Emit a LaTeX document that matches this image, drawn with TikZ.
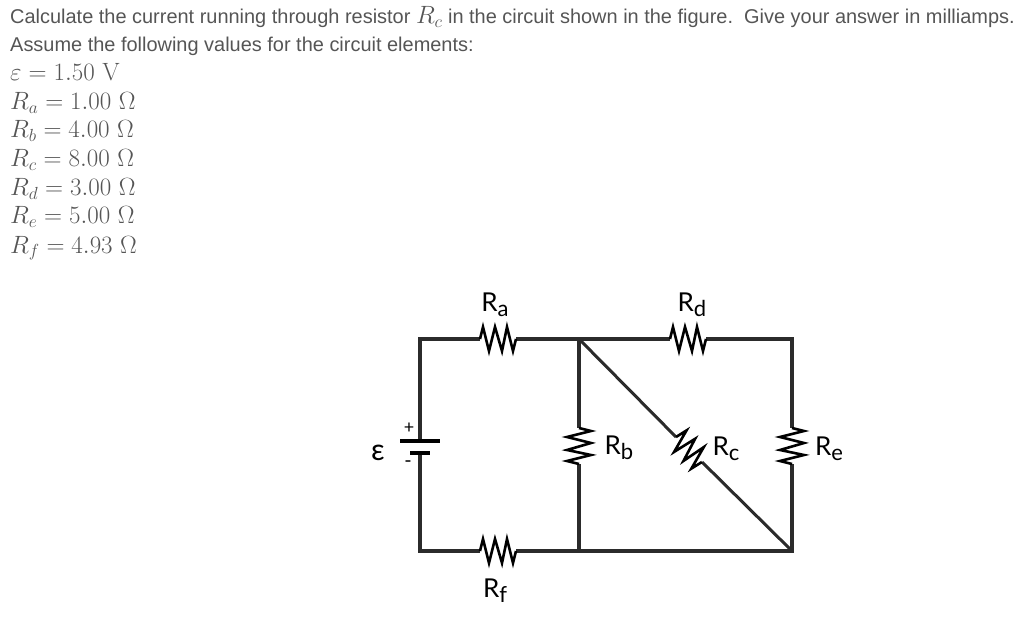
\documentclass[tikz,border=0pt]{standalone}
\usepackage{fix-cm}
\usepackage[no-math]{fontspec}
\newfontfamily\bodyfont{Liberation Sans}
\newfontfamily\labelfont{Lato}
\DeclareMathSizes{25}{25}{17.5}{12.5}
\definecolor{txt}{HTML}{555555}
\definecolor{wire}{HTML}{2B2B2B}
\tikzset{
  wirestyle/.style={draw=wire,line width=3.5pt,line join=miter},
  diagwire/.style={draw=wire,line width=3pt},
  zig/.style={draw=black,line width=2.6pt,line join=miter},
  plate/.style={draw=black,line width=3.2pt},
  bodytext/.style={anchor=base west,inner sep=0pt,text=txt,font=\bodyfont\fontsize{19.95}{24}\selectfont},
  mathtext/.style={anchor=base west,inner sep=0pt,text=txt,font=\fontsize{25}{29}\selectfont},
  circlabel/.style={inner sep=0pt,text=black,font=\labelfont\fontsize{26}{30}\selectfont},
  resistor/.pic={\draw[zig] (0,0)--(3,-12)--(9,12)--(15,-12)--(22,12)--(27,-12)--(33,12)--(36,0);}
}
\newcommand{\sublab}[2]{#1\raisebox{-0.2em}{\fontsize{22}{26}\selectfont #2}}
\begin{document}
\begin{tikzpicture}[x=1pt,y=-1pt]
\useasboundingbox (0,0) rectangle (1024,620);
% question text
\node[bodytext] (q1) at (10,24) {Calculate the current running through resistor \fontsize{25}{29}\selectfont$R_c$\fontsize{19.95}{24}\selectfont\ in the circuit shown in the figure.\ \ Give your answer in milliamps.};
\node[bodytext] (q2) at (10,52) {Assume the following values for the circuit elements:};
\node[mathtext] (v0) at (10,81) {$\varepsilon = 1.50\ \mathrm{V}$};
\node[mathtext] (va) at (10,110) {$R_a = 1.00\ \Omega$};
\node[mathtext] (vb) at (10,138) {$R_b = 4.00\ \Omega$};
\node[mathtext] (vc) at (10,167) {$R_c = 8.00\ \Omega$};
\node[mathtext] (vd) at (10,196) {$R_d = 3.00\ \Omega$};
\node[mathtext] (ve) at (10,224) {$R_e = 5.00\ \Omega$};
\node[mathtext] (vf) at (10,253) {$R_f = 4.93\ \Omega$};
% circuit corners
\coordinate (tl) at (420,339);
\coordinate (tm) at (579,339);
\coordinate (tr) at (792,339);
\coordinate (bl) at (420,551);
\coordinate (bm) at (579,551);
\coordinate (br) at (792,551);
\coordinate (ba1) at (480,339); \coordinate (ba2) at (516,339);
\coordinate (bd1) at (670,339); \coordinate (bd2) at (706,339);
\coordinate (bf1) at (480,551); \coordinate (bf2) at (516,551);
\coordinate (bb1) at (579,428); \coordinate (bb2) at (579,464);
\coordinate (be1) at (792,428); \coordinate (be2) at (792,464);
\coordinate (bc1) at (676,437); \coordinate (bc2) at (702,462);
\coordinate (pp) at (420,441);
\coordinate (pm) at (420,453);
% wires
\draw[wirestyle] (pp) -- (tl) -- (ba1);
\draw[wirestyle] (ba2) -- (tm) -- (bd1);
\draw[wirestyle] (bd2) -- (tr) -- (be1);
\draw[wirestyle] (be2) -- (br) -- (bm) -- (bf2);
\draw[wirestyle] (bf1) -- (bl) -- (pm);
\draw[wirestyle] (tm) -- (bb1);
\draw[wirestyle] (bb2) -- (bm);
\draw[diagwire] (tm) -- (bc1);
\draw[diagwire] (bc2) -- (br);
% resistors
\pic at (ba1) {resistor};
\pic at (bd1) {resistor};
\pic at (bf1) {resistor};
\pic[rotate=-90] at (bb1) {resistor};
\pic[rotate=-90] at (be1) {resistor};
\pic[rotate=-44] at (bc1) {resistor};
% battery
\draw[plate] (400,441) -- (440,441);
\draw[plate] (410,453) -- (430,453);
\node[inner sep=0pt,font=\labelfont\fontsize{18}{20}\selectfont] (plus) at (409,428) {+};
\node[inner sep=0pt,font=\labelfont\fontsize{20}{22}\selectfont] (minus) at (408,464) {-};
\node[circlabel,font=\labelfont\fontsize{30}{32}\selectfont] (eps) at (378,453) {ε};
% labels
\node[circlabel] (la) at (495,305) {\sublab{R}{a}};
\node[circlabel] (ld) at (692,305) {\sublab{R}{d}};
\node[circlabel] (lb) at (619,448) {\sublab{R}{b}};
\node[circlabel] (lc) at (726,449) {\sublab{R}{c}};
\node[circlabel] (le) at (829,449) {\sublab{R}{e}};
\node[circlabel] (lf) at (495,591) {\sublab{R}{f}};
\end{tikzpicture}
\end{document}
